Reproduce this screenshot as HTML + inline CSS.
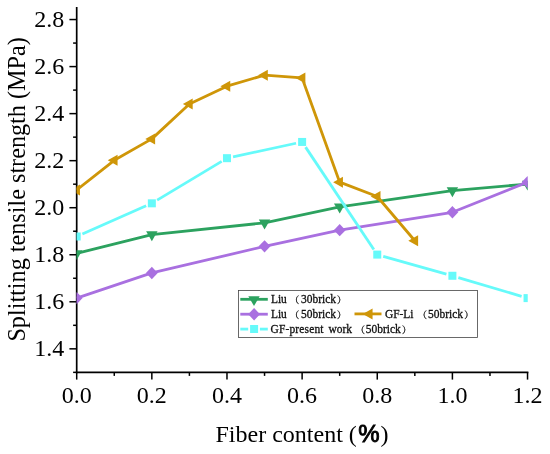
<!DOCTYPE html>
<html><head><meta charset="utf-8"><title>Splitting tensile strength</title>
<style>html,body{margin:0;padding:0;background:#fff}svg{display:block}</style></head>
<body>
<svg width="550" height="454" viewBox="0 0 550 454">
<defs><clipPath id="plot"><rect x="76.5" y="0" width="451.24" height="372.3"/></clipPath></defs>
<rect width="550" height="454" fill="#fff"/>
<rect x="238.5" y="290.4" width="239" height="47" fill="#fff" stroke="#444" stroke-width="0.8"/>
<line x1="240.3" y1="299.3" x2="267.8" y2="299.3" stroke="#2ca25f" stroke-width="2.8"/>
<g fill="#2ca25f"><polygon points="248.30,296.13 259.70,296.13 254.00,305.93"/></g>
<line x1="240.3" y1="314.2" x2="267.8" y2="314.2" stroke="#a970e0" stroke-width="2.8"/>
<g fill="#a970e0"><polygon points="248.20,314.20 254.10,308.00 260.00,314.20 254.10,320.40"/></g>
<line x1="240.3" y1="329.1" x2="248.2" y2="329.1" stroke="#66fafa" stroke-width="2.8"/>
<line x1="259.9" y1="329.1" x2="267.8" y2="329.1" stroke="#66fafa" stroke-width="2.8"/>
<g fill="#66fafa"><rect x="250.10" y="325.00" width="8" height="8"/></g>
<line x1="354.5" y1="313.9" x2="381.5" y2="313.9" stroke="#cf9608" stroke-width="2.8"/>
<g fill="#cf9608"><polygon points="372.57,308.40 372.57,319.40 362.77,313.90"/></g>
<g font-family="'Liberation Serif','Noto Serif CJK SC',serif" font-size="11.45" fill="#111" stroke="#111" stroke-width="0.3">
<text x="270.9" y="303.0">Liu</text>
<text x="299.3" y="303.0" text-anchor="end" font-size="9.2">（</text>
<text x="301.0" y="303.0">30brick</text>
<text x="336.4" y="303.0" font-size="9.2" dx="0.5">）</text>
<text x="270.9" y="317.9">Liu</text>
<text x="299.3" y="317.9" text-anchor="end" font-size="9.2">（</text>
<text x="301.0" y="317.9">50brick</text>
<text x="336.4" y="317.9" font-size="9.2" dx="0.5">）</text>
<text x="270.5" y="333.4" textLength="53" lengthAdjust="spacing">GF-present</text>
<text x="328.5" y="333.4">work</text>
<text x="364.9" y="333.4" text-anchor="end" font-size="9.2">（</text>
<text x="365.8" y="333.4">50brick</text>
<text x="401.6" y="333.4" font-size="9.2" dx="0.5">）</text>
<text x="384.9" y="317.9">GF-Li</text>
<text x="426.9" y="317.9" text-anchor="end" font-size="9.2">（</text>
<text x="428.0" y="317.9">50brick</text>
<text x="463.8" y="317.9" font-size="9.2" dx="0.5">）</text>
</g>
<g stroke="#000" stroke-width="1.7" stroke-linecap="butt" fill="none">
<line x1="76.7" y1="7.0" x2="76.7" y2="373.15000000000003"/>
<line x1="75.85000000000001" y1="372.3" x2="528.39" y2="372.3"/>
</g><g stroke="#000" stroke-width="1.5">
<line x1="73.10" y1="372.35" x2="76.7" y2="372.35"/>
<line x1="69.40" y1="348.83" x2="76.7" y2="348.83"/>
<line x1="73.10" y1="325.31" x2="76.7" y2="325.31"/>
<line x1="69.40" y1="301.79" x2="76.7" y2="301.79"/>
<line x1="73.10" y1="278.27" x2="76.7" y2="278.27"/>
<line x1="69.40" y1="254.75" x2="76.7" y2="254.75"/>
<line x1="73.10" y1="231.23" x2="76.7" y2="231.23"/>
<line x1="69.40" y1="207.71" x2="76.7" y2="207.71"/>
<line x1="73.10" y1="184.19" x2="76.7" y2="184.19"/>
<line x1="69.40" y1="160.67" x2="76.7" y2="160.67"/>
<line x1="73.10" y1="137.15" x2="76.7" y2="137.15"/>
<line x1="69.40" y1="113.63" x2="76.7" y2="113.63"/>
<line x1="73.10" y1="90.11" x2="76.7" y2="90.11"/>
<line x1="69.40" y1="66.59" x2="76.7" y2="66.59"/>
<line x1="73.10" y1="43.07" x2="76.7" y2="43.07"/>
<line x1="69.40" y1="19.55" x2="76.7" y2="19.55"/>
<line x1="76.70" y1="372.3" x2="76.70" y2="379.60"/>
<line x1="114.27" y1="372.3" x2="114.27" y2="375.90"/>
<line x1="151.84" y1="372.3" x2="151.84" y2="379.60"/>
<line x1="189.41" y1="372.3" x2="189.41" y2="375.90"/>
<line x1="226.98" y1="372.3" x2="226.98" y2="379.60"/>
<line x1="264.55" y1="372.3" x2="264.55" y2="375.90"/>
<line x1="302.12" y1="372.3" x2="302.12" y2="379.60"/>
<line x1="339.69" y1="372.3" x2="339.69" y2="375.90"/>
<line x1="377.26" y1="372.3" x2="377.26" y2="379.60"/>
<line x1="414.83" y1="372.3" x2="414.83" y2="375.90"/>
<line x1="452.40" y1="372.3" x2="452.40" y2="379.60"/>
<line x1="489.97" y1="372.3" x2="489.97" y2="375.90"/>
<line x1="527.54" y1="372.3" x2="527.54" y2="379.60"/>
</g>
<g clip-path="url(#plot)">
<polyline fill="none" stroke="#2ca25f" stroke-width="2.8" stroke-linejoin="round" points="76.70,253.42 151.84,234.61 264.55,222.85 339.69,206.85 452.40,190.63 527.54,184.04"/>
<g fill="#2ca25f"><polygon points="71.00,250.16 82.40,250.16 76.70,259.96"/><polygon points="146.14,231.34 157.54,231.34 151.84,241.14"/><polygon points="258.85,219.58 270.25,219.58 264.55,229.38"/><polygon points="333.99,203.59 345.39,203.59 339.69,213.39"/><polygon points="446.70,187.36 458.10,187.36 452.40,197.16"/><polygon points="521.84,180.77 533.24,180.77 527.54,190.57"/></g>
<polyline fill="none" stroke="#a970e0" stroke-width="2.8" stroke-linejoin="round" points="76.70,298.11 151.84,272.95 264.55,246.37 339.69,230.14 452.40,212.26 527.54,182.16"/>
<g fill="#a970e0"><polygon points="70.80,298.11 76.70,291.91 82.60,298.11 76.70,304.31"/><polygon points="145.94,272.95 151.84,266.75 157.74,272.95 151.84,279.15"/><polygon points="258.65,246.37 264.55,240.17 270.45,246.37 264.55,252.57"/><polygon points="333.79,230.14 339.69,223.94 345.59,230.14 339.69,236.34"/><polygon points="446.50,212.26 452.40,206.06 458.30,212.26 452.40,218.46"/><polygon points="521.64,182.16 527.54,175.96 533.44,182.16 527.54,188.36"/></g>
<line x1="82.37" y1="233.99" x2="146.17" y2="205.83" stroke="#66fafa" stroke-width="2.8"/>
<line x1="157.15" y1="200.13" x2="221.67" y2="161.36" stroke="#66fafa" stroke-width="2.8"/>
<line x1="233.04" y1="156.86" x2="296.06" y2="143.25" stroke="#66fafa" stroke-width="2.8"/>
<line x1="305.56" y1="147.10" x2="373.82" y2="249.44" stroke="#66fafa" stroke-width="2.8"/>
<line x1="383.23" y1="256.28" x2="446.43" y2="274.09" stroke="#66fafa" stroke-width="2.8"/>
<line x1="458.34" y1="277.54" x2="521.60" y2="296.34" stroke="#66fafa" stroke-width="2.8"/>
<g fill="#66fafa"><rect x="72.70" y="232.49" width="8" height="8"/><rect x="147.84" y="199.33" width="8" height="8"/><rect x="222.98" y="154.17" width="8" height="8"/><rect x="298.12" y="137.94" width="8" height="8"/><rect x="373.26" y="250.60" width="8" height="8"/><rect x="448.40" y="271.77" width="8" height="8"/><rect x="523.54" y="294.11" width="8" height="8"/></g>
<polyline fill="none" stroke="#cf9608" stroke-width="2.8" stroke-linejoin="round" points="76.70,189.92 114.27,160.28 151.84,138.88 189.41,104.07 226.98,86.20 264.55,75.14 302.12,77.96 339.69,182.16 377.26,196.51 414.83,240.72"/>
<g fill="#cf9608"><polygon points="79.97,184.42 79.97,195.42 70.17,189.92"/><polygon points="117.54,154.78 117.54,165.78 107.74,160.28"/><polygon points="155.11,133.38 155.11,144.38 145.31,138.88"/><polygon points="192.68,98.57 192.68,109.57 182.88,104.07"/><polygon points="230.25,80.70 230.25,91.70 220.45,86.20"/><polygon points="267.82,69.64 267.82,80.64 258.02,75.14"/><polygon points="305.39,72.46 305.39,83.46 295.59,77.96"/><polygon points="342.96,176.66 342.96,187.66 333.16,182.16"/><polygon points="380.53,191.01 380.53,202.01 370.73,196.51"/><polygon points="418.10,235.22 418.10,246.22 408.30,240.72"/></g>
</g>
<g font-family="'Liberation Serif','Times New Roman',serif" font-size="24" fill="#000">
<text x="64.2" y="355.83" text-anchor="end">1.4</text>
<text x="64.2" y="308.79" text-anchor="end">1.6</text>
<text x="64.2" y="261.75" text-anchor="end">1.8</text>
<text x="64.2" y="214.71" text-anchor="end">2.0</text>
<text x="64.2" y="167.67" text-anchor="end">2.2</text>
<text x="64.2" y="120.63" text-anchor="end">2.4</text>
<text x="64.2" y="73.59" text-anchor="end">2.6</text>
<text x="64.2" y="26.55" text-anchor="end">2.8</text>
<text x="76.70" y="403.2" text-anchor="middle">0.0</text>
<text x="151.84" y="403.2" text-anchor="middle">0.2</text>
<text x="226.98" y="403.2" text-anchor="middle">0.4</text>
<text x="302.12" y="403.2" text-anchor="middle">0.6</text>
<text x="377.26" y="403.2" text-anchor="middle">0.8</text>
<text x="452.40" y="403.2" text-anchor="middle">1.0</text>
<text x="527.54" y="403.2" text-anchor="middle">1.2</text>
</g>
<text x="215.5" y="442.2" font-family="'Liberation Serif',serif" font-size="24" fill="#000" xml:space="preserve">Fiber content (<tspan x="358.2" font-family="'Liberation Sans',sans-serif" font-size="24" stroke="#000" stroke-width="0.9">%</tspan><tspan x="380.5">)</tspan></text>
<text transform="translate(25.4,341.6) rotate(-90)" font-family="'Liberation Serif',serif" font-size="24.2" fill="#000">Splitting tensile strength (MPa)</text>
</svg>
</body></html>
